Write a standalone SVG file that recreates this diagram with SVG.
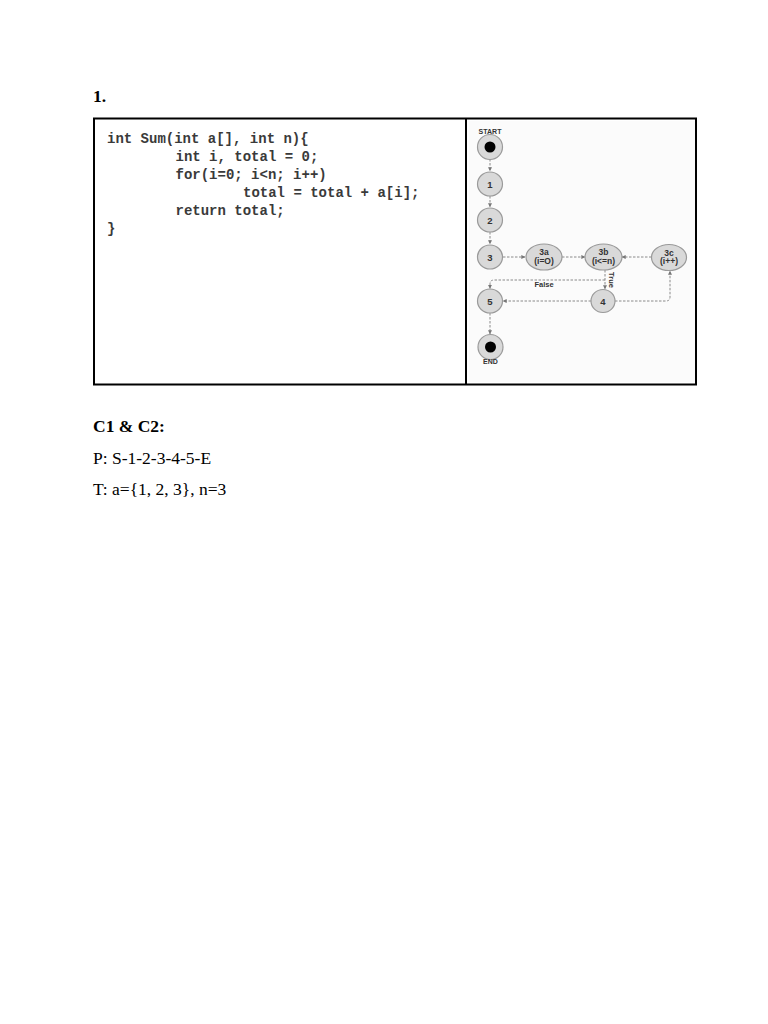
<svg xmlns="http://www.w3.org/2000/svg" width="768" height="1024" viewBox="0 0 768 1024">
<style>
.doc{font-family:"Liberation Serif","Times New Roman",serif;font-size:17.5px;fill:#000}
.b{font-weight:bold}
.code{font-family:"Liberation Mono","Courier New",monospace;font-size:14px;font-weight:bold;fill:#3a3a3a;white-space:pre}
.node{fill:#d9d9d9;stroke:#9a9a9a;stroke-width:1.2}
.lbl{font-family:"Liberation Sans",Arial,sans-serif;font-size:8.5px;font-weight:bold;fill:#333;text-anchor:middle}
.num{font-size:9.5px}
.edge{fill:none;stroke:#8a8a8a;stroke-width:1;stroke-dasharray:2.5 1.5}
</style>
<defs>
<marker id="ah" viewBox="0 0 6 6" refX="5.5" refY="3" markerWidth="4" markerHeight="4" orient="auto">
<path d="M0,0 L6,3 L0,6 z" fill="#777"/>
</marker>
</defs>
<rect width="768" height="1024" fill="#fff"/>
<text class="doc b" x="93" y="102">1.</text>
<g id="table">
<rect x="94" y="118.5" width="602" height="266" fill="none" stroke="#000" stroke-width="2"/>
<line x1="466" y1="118" x2="466" y2="385" stroke="#000" stroke-width="2"/>
</g>
<g id="code">
<text class="code" x="107" y="143">int Sum(int a[], int n){</text>
<text class="code" x="175.5" y="161">int i, total = 0;</text>
<text class="code" x="175.5" y="179">for(i=0; i&lt;n; i++)</text>
<text class="code" x="243" y="197">total = total + a[i];</text>
<text class="code" x="175.5" y="215">return total;</text>
<text class="code" x="107" y="233">}</text>
</g>
<rect x="469" y="121" width="226" height="261" fill="#fbfbfb"/>
<g id="connectors">
<line class="edge" x1="490" y1="159" x2="490" y2="171" marker-end="url(#ah)"/>
<line class="edge" x1="490" y1="196" x2="490" y2="207" marker-end="url(#ah)"/>
<line class="edge" x1="490" y1="232" x2="490" y2="244" marker-end="url(#ah)"/>
<line class="edge" x1="503" y1="257" x2="525" y2="257" marker-end="url(#ah)"/>
<line class="edge" x1="562" y1="257" x2="585" y2="257" marker-end="url(#ah)"/>
<line class="edge" x1="651.5" y1="257" x2="622" y2="257" marker-end="url(#ah)"/>
<line class="edge" x1="605" y1="270" x2="605" y2="289" marker-end="url(#ah)"/>
<path class="edge" d="M605,280 L494,280 Q490,280 490,284 L490,288.5" marker-end="url(#ah)"/>
<line class="edge" x1="591" y1="301" x2="503" y2="301" marker-end="url(#ah)"/>
<path class="edge" d="M615,301 L666,301 Q670,301 670,297 L670,271" marker-end="url(#ah)"/>
<line class="edge" x1="490" y1="313" x2="490" y2="334" marker-end="url(#ah)"/>
<text class="lbl" x="544" y="287" style="font-size:7.5px">False</text>
<text class="lbl" x="608.5" y="280" transform="rotate(90 608.5 280)" style="font-size:7.5px">True</text>
</g>
<g id="start">
<text class="lbl" x="490" y="134" style="font-size:7px">START</text>
<circle class="node" cx="490" cy="147" r="12.5"/>
<circle cx="490" cy="147" r="5.5" fill="#000"/>
</g>
<g id="n1"><ellipse class="node" cx="490" cy="184" rx="12.5" ry="12"/><text class="lbl num" x="490" y="187.5">1</text></g>
<g id="n2"><ellipse class="node" cx="490" cy="220" rx="12.5" ry="12"/><text class="lbl num" x="490" y="223.5">2</text></g>
<g id="n3"><ellipse class="node" cx="490" cy="257" rx="12.5" ry="12"/><text class="lbl num" x="490" y="260.5">3</text></g>
<g id="n3a"><ellipse class="node" cx="544" cy="257" rx="18" ry="13"/><text class="lbl" x="544" y="255">3a</text><text class="lbl" x="544" y="263.5">(i=O)</text></g>
<g id="n3b"><ellipse class="node" cx="603.5" cy="257" rx="18.5" ry="13"/><text class="lbl" x="603.5" y="255">3b</text><text class="lbl" x="603.5" y="263.5">(i&lt;=n)</text></g>
<g id="n3c"><ellipse class="node" cx="669" cy="257.5" rx="17.5" ry="13"/><text class="lbl" x="669" y="255.5">3c</text><text class="lbl" x="669" y="264">(i++)</text></g>
<g id="n5"><ellipse class="node" cx="490" cy="301" rx="12.5" ry="12"/><text class="lbl num" x="490" y="304.5">5</text></g>
<g id="n4"><ellipse class="node" cx="603" cy="301" rx="12" ry="11.5"/><text class="lbl num" x="603" y="304.5">4</text></g>
<g id="end">
<circle class="node" cx="490.5" cy="347" r="12.5"/>
<circle cx="490.5" cy="347" r="5.5" fill="#000"/>
<text class="lbl" x="490.5" y="364" style="font-size:7px">END</text>
</g>
<text class="doc b" x="93" y="432">C1 &amp; C2:</text>
<text class="doc" x="93" y="464">P: S-1-2-3-4-5-E</text>
<text class="doc" x="93" y="495">T: a={1, 2, 3}, n=3</text>
</svg>
